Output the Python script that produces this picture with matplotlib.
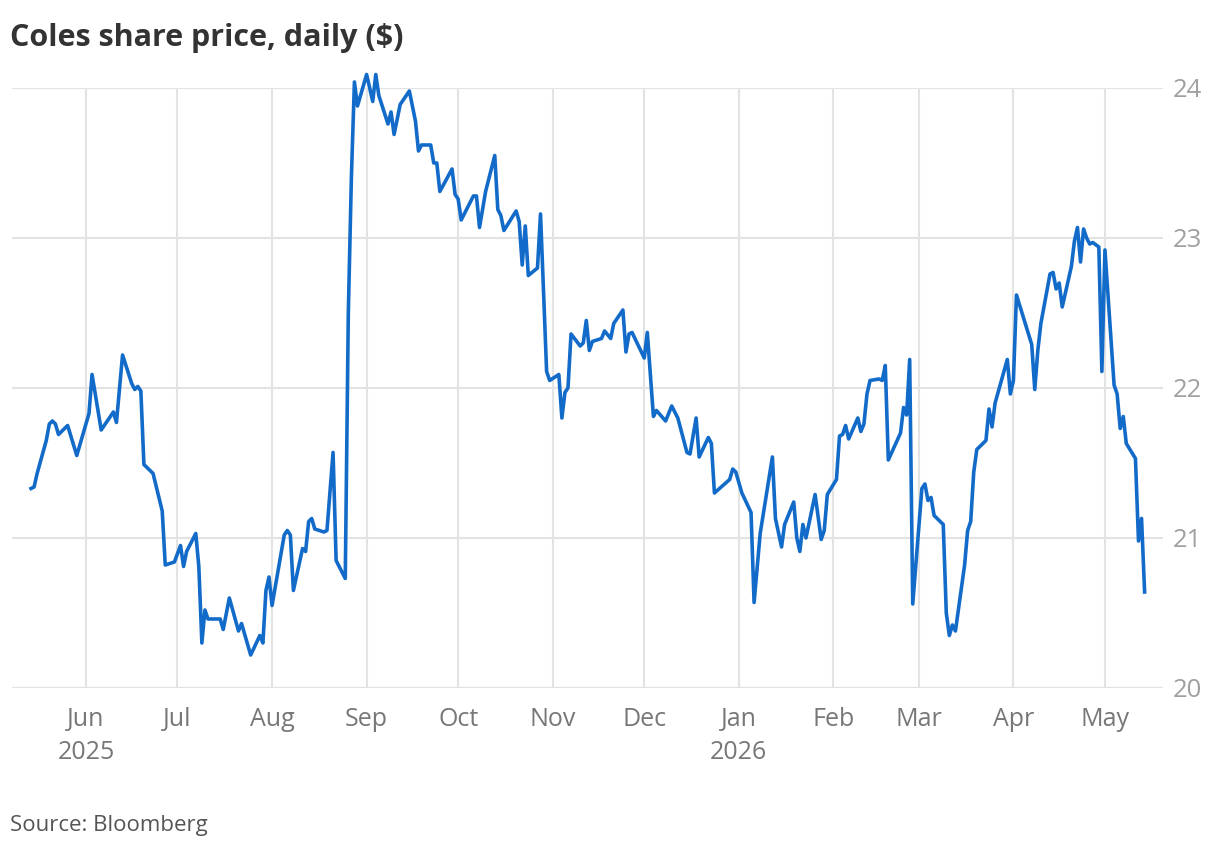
import pandas as pd
import matplotlib.pyplot as plt
import matplotlib.dates as mdates
import matplotlib.ticker as mticker

# data (trading-day turning points)
dates = [
    "2025-05-14", "2025-05-15", "2025-05-16", "2025-05-19", "2025-05-20", "2025-05-21",
    "2025-05-22", "2025-05-23", "2025-05-26", "2025-05-29", "2025-06-02", "2025-06-03",
    "2025-06-06", "2025-06-10", "2025-06-11", "2025-06-13", "2025-06-16", "2025-06-17",
    "2025-06-18", "2025-06-19", "2025-06-20", "2025-06-23", "2025-06-26", "2025-06-27",
    "2025-06-30", "2025-07-02", "2025-07-03", "2025-07-04", "2025-07-07", "2025-07-08",
    "2025-07-09", "2025-07-10", "2025-07-11", "2025-07-15", "2025-07-16", "2025-07-18",
    "2025-07-21", "2025-07-22", "2025-07-25", "2025-07-28", "2025-07-29", "2025-07-30",
    "2025-07-31", "2025-08-01", "2025-08-05", "2025-08-06", "2025-08-07", "2025-08-08",
    "2025-08-11", "2025-08-12", "2025-08-13", "2025-08-14", "2025-08-15", "2025-08-18",
    "2025-08-19", "2025-08-21", "2025-08-22", "2025-08-25", "2025-08-26", "2025-08-27",
    "2025-08-28", "2025-08-29", "2025-09-01", "2025-09-03", "2025-09-04", "2025-09-05",
    "2025-09-08", "2025-09-09", "2025-09-10", "2025-09-12", "2025-09-15", "2025-09-17",
    "2025-09-18", "2025-09-19", "2025-09-22", "2025-09-23", "2025-09-24", "2025-09-25",
    "2025-09-29", "2025-09-30", "2025-10-01", "2025-10-02", "2025-10-06", "2025-10-07",
    "2025-10-08", "2025-10-10", "2025-10-13", "2025-10-14", "2025-10-15", "2025-10-16",
    "2025-10-20", "2025-10-21", "2025-10-22", "2025-10-23", "2025-10-24", "2025-10-27",
    "2025-10-28", "2025-10-30", "2025-10-31", "2025-11-03", "2025-11-04", "2025-11-05",
    "2025-11-06", "2025-11-07", "2025-11-10", "2025-11-11", "2025-11-12", "2025-11-13",
    "2025-11-14", "2025-11-17", "2025-11-18", "2025-11-20", "2025-11-21", "2025-11-24",
    "2025-11-25", "2025-11-26", "2025-11-27", "2025-12-01", "2025-12-02", "2025-12-04",
    "2025-12-05", "2025-12-08", "2025-12-10", "2025-12-12", "2025-12-15", "2025-12-16",
    "2025-12-18", "2025-12-19", "2025-12-22", "2025-12-23", "2025-12-24", "2025-12-29",
    "2025-12-30", "2025-12-31", "2026-01-02", "2026-01-05", "2026-01-06", "2026-01-07",
    "2026-01-08", "2026-01-12", "2026-01-13", "2026-01-15", "2026-01-16", "2026-01-19",
    "2026-01-20", "2026-01-21", "2026-01-22", "2026-01-23", "2026-01-26", "2026-01-28",
    "2026-01-29", "2026-01-30", "2026-02-02", "2026-02-03", "2026-02-04", "2026-02-05",
    "2026-02-06", "2026-02-09", "2026-02-10", "2026-02-11", "2026-02-12", "2026-02-13",
    "2026-02-16", "2026-02-17", "2026-02-18", "2026-02-19", "2026-02-23", "2026-02-24",
    "2026-02-25", "2026-02-26", "2026-02-27", "2026-03-02", "2026-03-03", "2026-03-04",
    "2026-03-05", "2026-03-06", "2026-03-09", "2026-03-10", "2026-03-11", "2026-03-12",
    "2026-03-13", "2026-03-16", "2026-03-17", "2026-03-18", "2026-03-19", "2026-03-20",
    "2026-03-23", "2026-03-24", "2026-03-25", "2026-03-26", "2026-03-30", "2026-03-31",
    "2026-04-01", "2026-04-02", "2026-04-07", "2026-04-08", "2026-04-09", "2026-04-10",
    "2026-04-13", "2026-04-14", "2026-04-15", "2026-04-16", "2026-04-17", "2026-04-20",
    "2026-04-21", "2026-04-22", "2026-04-23", "2026-04-24", "2026-04-25", "2026-04-26",
    "2026-04-27", "2026-04-29", "2026-04-30", "2026-05-01", "2026-05-04", "2026-05-05",
    "2026-05-06", "2026-05-07", "2026-05-08", "2026-05-11", "2026-05-12", "2026-05-13",
    "2026-05-14",
]
prices = [
    21.33, 21.34, 21.43, 21.65, 21.76, 21.78,
    21.76, 21.69, 21.75, 21.55, 21.83, 22.09,
    21.72, 21.84, 21.77, 22.22, 22.03, 21.99,
    22.01, 21.98, 21.49, 21.43, 21.18, 20.82,
    20.84, 20.95, 20.81, 20.91, 21.03, 20.81,
    20.30, 20.52, 20.46, 20.46, 20.39, 20.60,
    20.38, 20.43, 20.22, 20.35, 20.30, 20.65,
    20.74, 20.55, 21.02, 21.05, 21.02, 20.65,
    20.93, 20.91, 21.11, 21.13, 21.06, 21.04,
    21.05, 21.57, 20.85, 20.73, 22.50, 23.40,
    24.04, 23.88, 24.09, 23.91, 24.09, 23.95,
    23.76, 23.84, 23.69, 23.89, 23.98, 23.78,
    23.58, 23.62, 23.62, 23.50, 23.50, 23.31,
    23.46, 23.29, 23.26, 23.12, 23.28, 23.28,
    23.07, 23.31, 23.55, 23.19, 23.15, 23.05,
    23.18, 23.11, 22.82, 23.08, 22.75, 22.80,
    23.16, 22.11, 22.05, 22.09, 21.80, 21.97,
    22.00, 22.36, 22.28, 22.30, 22.45, 22.25,
    22.31, 22.33, 22.38, 22.33, 22.43, 22.52,
    22.24, 22.36, 22.37, 22.20, 22.37, 21.81,
    21.85, 21.78, 21.88, 21.80, 21.57, 21.56,
    21.80, 21.54, 21.67, 21.63, 21.30, 21.39,
    21.46, 21.44, 21.30, 21.17, 20.57, 20.80,
    21.03, 21.54, 21.13, 20.94, 21.09, 21.24,
    21.00, 20.91, 21.09, 21.00, 21.29, 20.99,
    21.05, 21.29, 21.39, 21.68, 21.69, 21.75,
    21.66, 21.80, 21.71, 21.76, 21.96, 22.05,
    22.06, 22.05, 22.15, 21.52, 21.70, 21.87,
    21.82, 22.19, 20.56, 21.33, 21.36, 21.25,
    21.27, 21.15, 21.09, 20.50, 20.35, 20.42,
    20.38, 20.82, 21.05, 21.11, 21.44, 21.59,
    21.65, 21.86, 21.74, 21.90, 22.19, 21.96,
    22.05, 22.62, 22.29, 21.99, 22.25, 22.43,
    22.76, 22.77, 22.66, 22.70, 22.54, 22.81,
    22.98, 23.07, 22.84, 23.06, 23.00, 22.96,
    22.97, 22.94, 22.11, 22.92, 22.02, 21.96,
    21.73, 21.81, 21.63, 21.53, 20.98, 21.13,
    20.64,
]
y_ticks = [20, 21, 22, 23, 24]

plt.rcParams['font.family'] = ['Open Sans', 'DejaVu Sans']

df = pd.DataFrame({'date': pd.to_datetime(dates), 'price': prices})

fig = plt.figure(figsize=(12.2, 8.5), dpi=100)
ax = fig.add_axes([0.0098, 0.1906, 0.9434, 0.7059])

ax.plot(df['date'], df['price'], color='#136bc9', linewidth=2.6,
        solid_joinstyle='round', clip_on=False, zorder=3)

ax.set_ylim(20, 24)
ax.set_xlim(pd.Timestamp('2025-05-07 18:00'), pd.Timestamp('2026-05-20'))

# y axis on the right
ax.yaxis.tick_right()
ax.set_yticks(y_ticks)
ax.yaxis.set_major_formatter(mticker.FormatStrFormatter('%d'))
ax.tick_params(axis='y', length=0, pad=7, labelsize=18.5, labelcolor='#a0a0a0')

# monthly ticks, year shown under Jun 2025 and Jan 2026
ax.xaxis.set_major_locator(mdates.MonthLocator())


def month_label(x, pos):
    d = mdates.num2date(x)
    lab = d.strftime('%b')
    if (d.year == 2025 and d.month == 6) or (d.year == 2026 and d.month == 1):
        lab += '\n' + str(d.year)
    return lab


ax.xaxis.set_major_formatter(mticker.FuncFormatter(month_label))
ax.tick_params(axis='x', length=0, pad=14, labelsize=18, labelcolor='#777777')
for lab in ax.get_xticklabels():
    lab.set_linespacing(1.38)

ax.grid(True, color='#e3e3e3', linewidth=1.5, zorder=0)
for s in ax.spines.values():
    s.set_visible(False)
ax.axhline(20, color='#d0d0d0', linewidth=1.5, zorder=1)

fig.text(0.0082, 0.955, 'Coles share price, daily ($)', fontsize=22,
         fontweight='bold', color='#333333', va='center', ha='left')
fig.text(0.0082, 0.029, 'Source: Bloomberg', fontsize=16,
         color='#555555', va='center', ha='left')

plt.savefig('out.png', dpi=100)
